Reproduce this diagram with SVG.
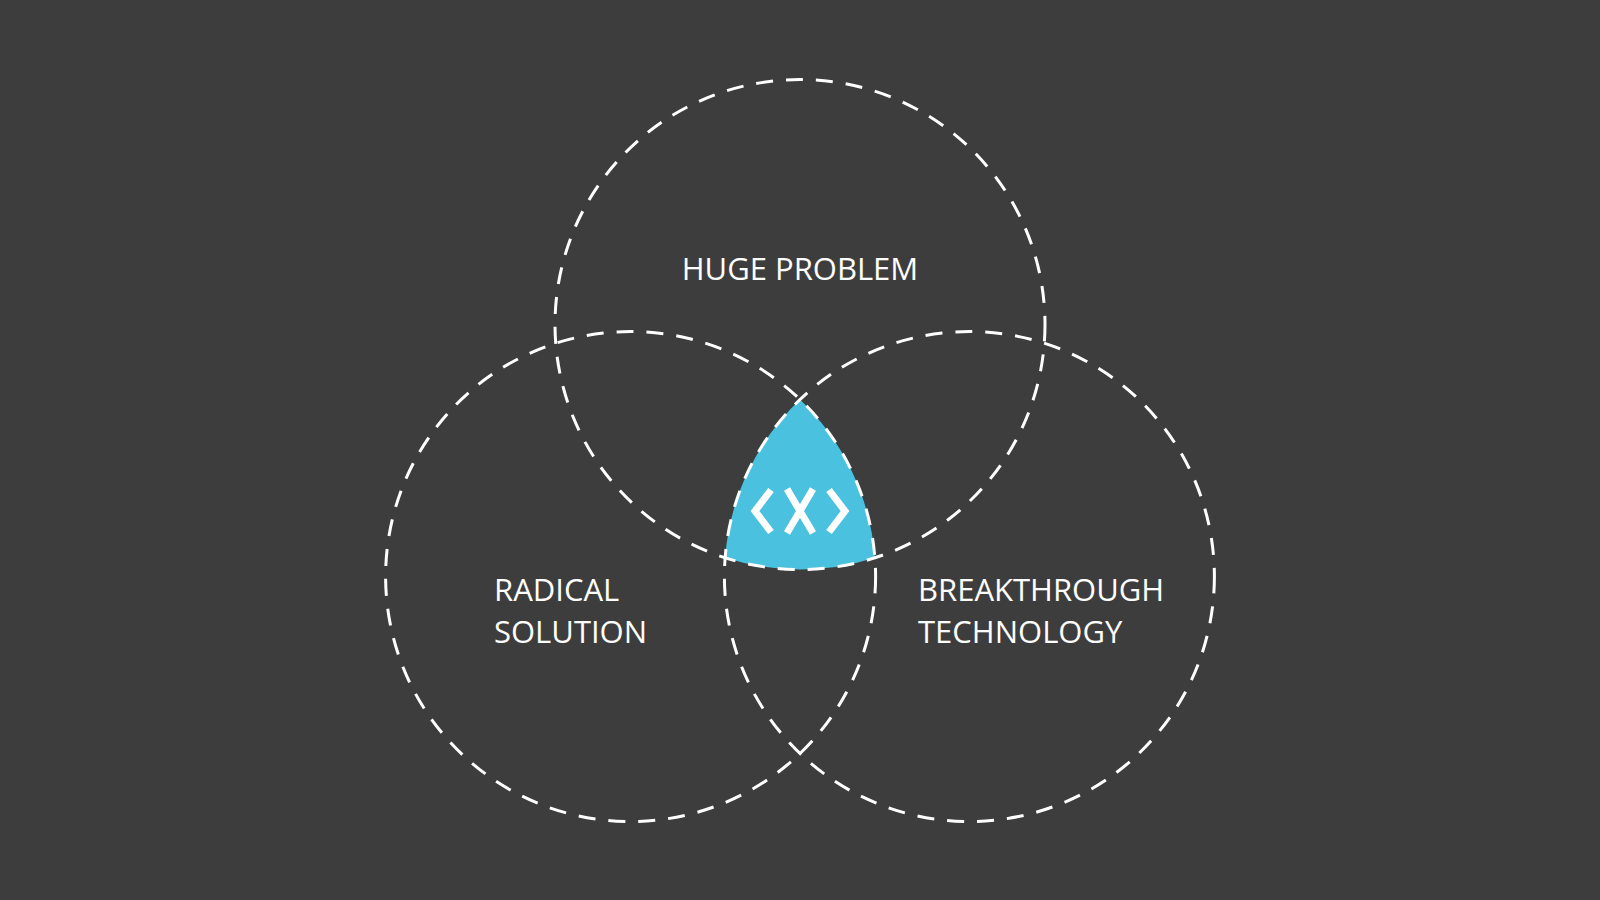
<svg xmlns="http://www.w3.org/2000/svg" width="1600" height="900" viewBox="0 0 1600 900">
<style>
.c{fill:none;stroke:#fff;stroke-width:3;stroke-dasharray:17 13}
.t{fill:#fff;font-family:"Open Sans","Noto Sans",sans-serif;font-size:31px}
.l{fill:none;stroke:#fff;stroke-width:7}
</style>
<rect width="1600" height="900" fill="#3d3d3d"/>
<g id="center">
<path d="M800,399.5 A245,245 0 0 0 725.1,557.8 A245,245 0 0 0 874.9,557.8 A245,245 0 0 0 800,399.5 Z" fill="#4bc1e0"/>
<path class="l" d="M771,490 L755,511 L771,532 M829,490 L845,511 L829,532 M787,489 L813,533 M813,489 L787,533"/>
</g>
<g id="huge-problem">
<circle class="c" cx="800" cy="324.5" r="245"/>
<text class="t" x="800" y="280" text-anchor="middle">HUGE PROBLEM</text>
</g>
<g id="radical-solution">
<circle class="c" cx="630.6" cy="576.5" r="245"/>
<text class="t" x="494" y="601">RADICAL</text>
<text class="t" x="494" y="643">SOLUTION</text>
</g>
<g id="breakthrough-technology">
<circle class="c" cx="969.4" cy="576.5" r="245"/>
<text class="t" x="918" y="601">BREAKTHROUGH</text>
<text class="t" x="918" y="643">TECHNOLOGY</text>
</g>
<g id="connectors"/>
</svg>
